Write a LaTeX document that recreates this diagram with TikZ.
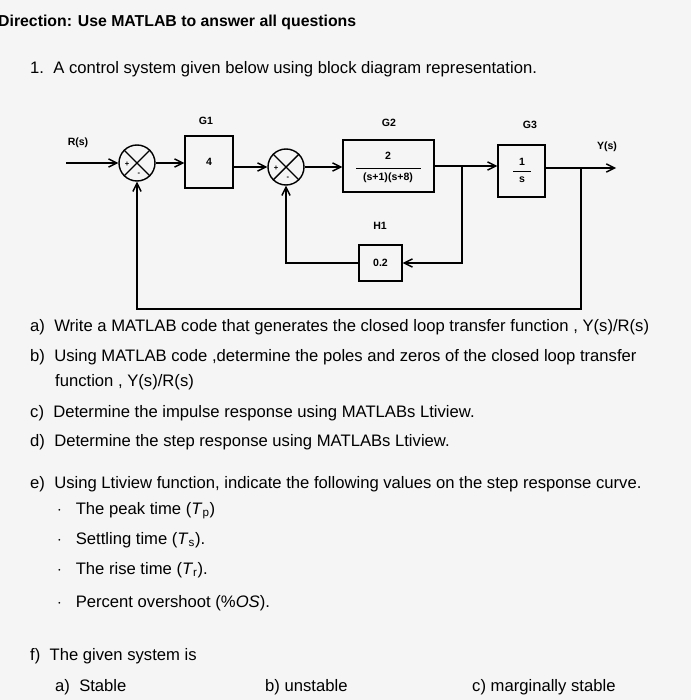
\documentclass[tikz,border=0pt]{standalone}
\usepackage{fontspec}
\setmainfont{Liberation Sans}
\usetikzlibrary{arrows.meta}
\begin{document}
\begin{tikzpicture}[x=0.03cm,y=-0.03cm,
  blk/.style={draw,line width=1.2pt,inner sep=0pt,font=\fontsize{9}{10}\selectfont\bfseries},
  sumj/.style={draw,circle,line width=1.2pt,minimum size=36*0.03cm,inner sep=0pt},
  sig/.style={line width=1.2pt,-{Straight Barb[length=7pt,width=7pt]}},
  ln/.style={line width=1.2pt},
  lab/.style={font=\fontsize{9}{10}\selectfont\bfseries},
  txt/.style={anchor=base west,inner sep=0pt,font=\fontsize{14.2}{16}\selectfont},
  sgn/.style={font=\fontsize{6.5}{6.5}\selectfont\bfseries,inner sep=0pt}]
\fill[gray!8] (0,0) rectangle (691,700);
\clip (0,0) rectangle (691,700);
\node[txt,font=\fontsize{13.5}{15}\selectfont\bfseries] (t0) at (-2,26) {Direction: Use MATLAB to answer all questions};
\node[txt] (t1) at (30,73) {1.\ \ A control system given below using block diagram representation.};
% diagram
\node[sumj] (s1) at (137,163) {};
\draw[ln] (s1.45)--(s1.225) (s1.135)--(s1.315);
\node[sgn] at (127,164) {+}; \node[sgn] at (139,174) {-};
\node[blk,minimum width=48*0.03cm,minimum height=52*0.03cm] (g1) at (209,162) {4};
\node[lab] (lg1) at (206,121) {G1};
\node[sumj] (s2) at (286,167) {};
\draw[ln] (s2.45)--(s2.225) (s2.135)--(s2.315);
\node[sgn] at (276,168) {+}; \node[sgn] at (288,178) {-};
\node[blk,minimum width=91*0.03cm,minimum height=52*0.03cm] (g2) at (388.5,166) {};
\draw[line width=0.5pt] (356,168)--(421,168);
\node[lab] at (388,156) {2};
\node[lab] at (388,178) {(s+1)(s+8)};
\node[lab] (lg2) at (389,123) {G2};
\node[blk,minimum width=47*0.03cm,minimum height=52*0.03cm] (g3) at (521.5,171) {};
\draw[line width=0.5pt] (513,171)--(531,171);
\node[lab] at (522,162) {1}; \node[lab] at (522,180) {s};
\node[lab] (lg3) at (530,125) {G3};
\node[blk,minimum width=43*0.03cm,minimum height=36*0.03cm] (h1) at (380.5,263) {0.2};
\node[lab] (lh1) at (380,226) {H1};
\node[lab] (lr) at (78,143) {R(s)};
\node[lab] (ly) at (607,147) {Y(s)};
\coordinate (rin) at (66,163);
\coordinate (yout) at (616,168);
\coordinate (b1) at (462,166);
\coordinate (b2) at (581,168);
\draw[sig] (rin)--(s1);
\draw[sig] (s1)--(g1.west|-s1);
\draw[sig] (g1.east|-s2)--(s2);
\draw[sig] (s2)--(g2.west|-s2);
\draw[sig] (g2.east|-b1)--(g3.west|-b1);
\draw[sig] (g3.east|-yout)--(yout);
\draw[sig] (b1)--(462,263)--(h1.east);
\draw[sig] (h1.west)--(286,263)--(s2.south);
\draw[sig] (b2)--(581,309)--(137,309)--(s1.south);
% questions
\node[txt] (qa) at (30,331) {a)\ \ Write a MATLAB code that generates the closed loop transfer function , Y(s)/R(s)};
\node[txt] (qb) at (30,361) {b)\ \ Using MATLAB code ,determine the poles and zeros of the closed loop transfer};
\node[txt] (qb2) at (55,386) {function , Y(s)/R(s)};
\node[txt] (qc) at (30,417) {c)\ \ Determine the impulse response using MATLABs Ltiview.};
\node[txt] (qd) at (30,446) {d)\ \ Determine the step response using MATLABs Ltiview.};
\node[txt] (qe) at (30,488) {e)\ \ Using Ltiview function, indicate the following values on the step response curve.};
\node[txt] (e1) at (57,514) {$\cdot$\ \ \ The peak time (\textit{T}\textsubscript{p})};
\node[txt] (e2) at (57,544) {$\cdot$\ \ \ Settling time (\textit{T}\textsubscript{s}).};
\node[txt] (e3) at (57,574) {$\cdot$\ \ \ The rise time (\textit{T}\textsubscript{r}).};
\node[txt] (e4) at (57,607) {$\cdot$\ \ \ Percent overshoot (\%\textit{OS}).};
\node[txt] (qf) at (30,660) {f)\ \ The given system is};
\node[txt] (f1) at (55,691) {a)\ \ Stable};
\node[txt] (f2) at (265,691) {b) unstable};
\node[txt] (f3) at (472,691) {c) marginally stable};
\end{tikzpicture}
\end{document}
